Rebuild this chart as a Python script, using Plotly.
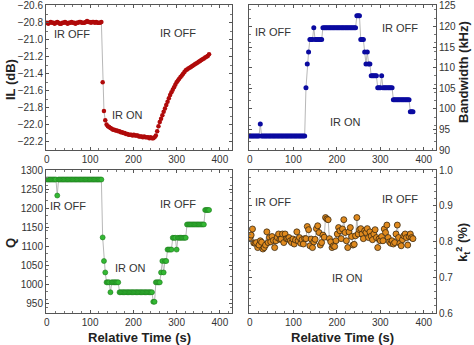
import plotly.graph_objects as go

# ---------------- data ----------------
time_s = list(range(0, 376, 3))

il_db = [
    -20.80, -20.81, -20.80, -20.79, -20.80, -20.80, -20.81, -20.80, -20.79, -20.80,
    -20.81, -20.81, -20.80, -20.80, -20.79, -20.80, -20.81, -20.80, -20.80, -20.79,
    -20.80, -20.80, -20.81, -20.80, -20.80, -20.79, -20.79, -20.80, -20.80, -20.80,
    -20.79, -20.78, -20.79, -20.79, -20.80, -20.79, -20.79, -20.80, -20.79, -20.80,
    -20.80, -20.80, -20.79,
    -21.50, -21.84, -21.95, -22.00, -22.02, -22.03, -22.04, -22.05, -22.06, -22.06,
    -22.07, -22.07, -22.08, -22.08, -22.09, -22.09, -22.10, -22.10, -22.11, -22.11,
    -22.12, -22.12, -22.12, -22.13, -22.12, -22.13, -22.13, -22.13, -22.14, -22.14,
    -22.14, -22.15, -22.14, -22.15, -22.15, -22.15, -22.16, -22.15, -22.16, -22.16,
    -22.15, -22.13, -22.08, -22.02, -21.97, -21.93, -21.89, -21.85, -21.81, -21.77,
    -21.73, -21.69, -21.65, -21.62, -21.59, -21.56, -21.53, -21.50, -21.48, -21.46,
    -21.44, -21.42, -21.40, -21.38, -21.36, -21.35, -21.34, -21.33, -21.32, -21.31,
    -21.30, -21.29, -21.28, -21.27, -21.26, -21.25, -21.24, -21.23, -21.22, -21.21,
    -21.20, -21.19, -21.17,
]

bandwidth_khz = (
    [93.4] * 8 + [96.3] + [93.4] * 34 + [105.1, 110.9, 113.8] + [116.8] * 3 + [119.7]
    + [116.8] * 6 + [119.7] * 26 + [122.6] * 3 + [116.8] * 3 + [113.8, 110.9, 113.8]
    + [110.9] * 2 + [108.0] * 5 + [105.1] * 3 + [108.0] + [105.1] * 8 + [102.2] * 13
    + [99.3] * 3
)

q_factor = (
    [1275] * 8 + [1233] + [1275] * 34 + [1123, 1061, 1031] + [1005] * 3 + [979]
    + [1005] * 6 + [979] * 26 + [954] * 2 + [1005] * 4 + [1031, 1061, 1031]
    + [1061] * 2 + [1091] * 4 + [1122] * 3 + [1091] + [1122] * 7 + [1157] * 14
    + [1195] * 4
)

kt2_pct = [
    0.811, 0.818, 0.835, 0.796, 0.795, 0.797, 0.783, 0.790, 0.802, 0.798,
    0.779, 0.783, 0.790, 0.827, 0.797, 0.811, 0.799, 0.814, 0.803, 0.783,
    0.802, 0.811, 0.821, 0.806, 0.807, 0.821, 0.797, 0.821, 0.808, 0.808,
    0.811, 0.802, 0.797, 0.807, 0.793, 0.804, 0.827, 0.802, 0.811, 0.795,
    0.805, 0.793, 0.808, 0.808, 0.842, 0.833, 0.788, 0.807, 0.783, 0.799,
    0.806, 0.836, 0.844, 0.825, 0.790, 0.797, 0.818, 0.812, 0.867, 0.863,
    0.861, 0.808, 0.799, 0.783, 0.788, 0.786, 0.802, 0.821, 0.839, 0.830,
    0.808, 0.835, 0.861, 0.825, 0.802, 0.783, 0.827, 0.839, 0.814, 0.790,
    0.792, 0.816, 0.867, 0.821, 0.833, 0.836, 0.821, 0.808, 0.830, 0.825,
    0.836, 0.811, 0.827, 0.815, 0.805, 0.821, 0.833, 0.811, 0.783, 0.807,
    0.802, 0.814, 0.802, 0.835, 0.825, 0.846, 0.811, 0.799, 0.795, 0.802,
    0.793, 0.797, 0.821, 0.846, 0.811, 0.795, 0.788, 0.805, 0.816, 0.821,
    0.811, 0.790, 0.814, 0.821, 0.811, 0.808,
]

x_ticks = [0, 100, 200, 300, 400]
il_ticks = [-20.6, -20.8, -21.0, -21.2, -21.4, -21.6, -21.8, -22.0, -22.2]
bw_ticks = [90, 95, 100, 105, 110, 115, 120, 125]
q_ticks = [950, 1000, 1050, 1100, 1150, 1200, 1250, 1300]
kt_ticks = [0.6, 0.7, 0.8, 0.9, 1.0]

# ---------------- figure ----------------
W, H = 474, 345
FONT = "Liberation Sans, Arial, sans-serif"


def px_x(p):
    return p / W


def px_y(p):
    return 1 - p / H


fig = go.Figure()

line_style = dict(color="#b8b8b8", width=1)

fig.add_trace(go.Scatter(x=time_s, y=il_db, mode="lines+markers", line=line_style,
                         marker=dict(size=4.5, color="#b00a0a", line=dict(width=0)),
                         xaxis="x", yaxis="y", showlegend=False))
fig.add_trace(go.Scatter(x=time_s, y=bandwidth_khz, mode="lines+markers", line=line_style,
                         marker=dict(size=5, color="#0a0aa0", line=dict(width=0)),
                         xaxis="x2", yaxis="y2", showlegend=False))
fig.add_trace(go.Scatter(x=time_s, y=q_factor, mode="lines+markers", line=line_style,
                         marker=dict(size=5, color="#33b833", line=dict(width=0.6, color="#1d7a1d")),
                         xaxis="x3", yaxis="y3", showlegend=False))
fig.add_trace(go.Scatter(x=time_s, y=kt2_pct, mode="lines+markers", line=line_style,
                         marker=dict(size=6, color="#e08a1e", line=dict(width=0.8, color="#3a2810")),
                         xaxis="x4", yaxis="y4", showlegend=False))

left_dom = [px_x(46), px_x(232)]
right_dom = [px_x(249), px_x(436)]
top_dom = [px_y(150), px_y(5)]
bot_dom = [px_y(313), px_y(170)]

axis_common = dict(showline=True, linecolor="#555", linewidth=1, mirror="ticks",
                   ticks="inside", ticklen=3, tickcolor="#555", showgrid=False,
                   zeroline=False, tickfont=dict(family=FONT, size=10, color="#333"),
                   automargin=False,
                   minor=dict(ticks="inside", ticklen=2, tickcolor="#777"))

xrange_ = [-2, 428]

fig.update_layout(
    width=W, height=H,
    margin=dict(l=0, r=0, t=0, b=0),
    paper_bgcolor="white", plot_bgcolor="white",
    xaxis=dict(domain=left_dom, anchor="y", range=xrange_, tickvals=x_ticks, **axis_common),
    yaxis=dict(domain=top_dom, anchor="x", range=[-22.30, -20.59], tickvals=il_ticks,
               tickformat=".1f", **axis_common),
    xaxis2=dict(domain=right_dom, anchor="y2", range=xrange_, tickvals=x_ticks, **axis_common),
    yaxis2=dict(domain=top_dom, anchor="x2", range=[90, 125.2], tickvals=bw_ticks,
                side="right", **axis_common),
    xaxis3=dict(domain=left_dom, anchor="y3", range=xrange_, tickvals=x_ticks, **axis_common),
    yaxis3=dict(domain=bot_dom, anchor="x3", range=[924.5, 1300], tickvals=q_ticks, **axis_common),
    xaxis4=dict(domain=right_dom, anchor="y4", range=xrange_, tickvals=x_ticks, **axis_common),
    yaxis4=dict(domain=bot_dom, anchor="x4", range=[0.6, 1.0], tickvals=kt_ticks,
                tickformat=".1f", side="right", **axis_common),
)

ann_font = dict(family=FONT, size=11, color="#333")
labels = [
    ("x", "y", 57, -20.93, "IR OFF"),
    ("x", "y", 303, -20.92, "IR OFF"),
    ("x", "y", 186, -21.89, "IR ON"),
    ("x2", "y2", 54, 118.7, "IR OFF"),
    ("x2", "y2", 345, 119.6, "IR OFF"),
    ("x2", "y2", 220, 96.9, "IR ON"),
    ("x3", "y3", 49, 1206, "IR OFF"),
    ("x3", "y3", 302, 1210, "IR OFF"),
    ("x3", "y3", 194, 1042, "IR ON"),
    ("x4", "y4", 54, 0.91, "IR OFF"),
    ("x4", "y4", 345, 0.918, "IR OFF"),
    ("x4", "y4", 225, 0.697, "IR ON"),
]
for xr, yr, xv, yv, txt in labels:
    fig.add_annotation(x=xv, y=yv, xref=xr, yref=yr, text=txt, showarrow=False,
                       font=ann_font, xanchor="center", yanchor="middle")

title_font = dict(family=FONT, size=13, color="#222")
axis_titles = [
    (10, 80, "<b>IL (dB)</b>", -90),
    (10, 243, "<b>Q</b>", -90),
    (463, 72, "<b>Bandwidth (kHz)</b>", -90),
    (463, 243, "<b>k<sub>t</sub><sup>2</sup> (%)</b>", -90),
    (139, 337, "<b>Relative Time (s)</b>", 0),
    (342, 337, "<b>Relative Time (s)</b>", 0),
]
for xp, yp, txt, ang in axis_titles:
    fig.add_annotation(x=px_x(xp), y=px_y(yp), xref="paper", yref="paper", text=txt,
                       showarrow=False, font=title_font, textangle=ang,
                       xanchor="center", yanchor="middle")

fig.write_html("out.html")
